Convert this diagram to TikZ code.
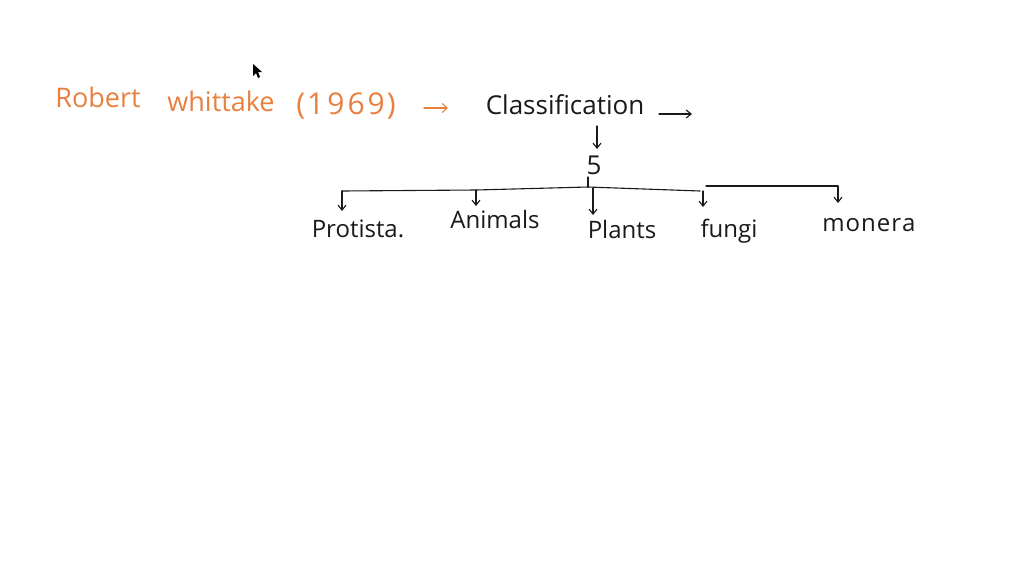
\documentclass[tikz,border=0pt]{standalone}
\usepackage{fontspec}
\setmainfont{Open Sans}
\usetikzlibrary{arrows.meta}
\definecolor{penorange}{HTML}{E8803F}
\definecolor{penblack}{HTML}{1A1A1A}
\begin{document}
\begin{tikzpicture}[x=1pt,y=-1pt,
  hand/.style={inner sep=0pt, anchor=center},
  orangetext/.style={hand, text=penorange, font=\fontsize{27}{30}\selectfont},
  blacktext/.style={hand, text=penblack, font=\fontsize{26}{28}\selectfont},
  leaf/.style={hand, text=penblack, font=\fontsize{24}{26}\selectfont},
  conn/.style={draw=penblack, line width=1.1pt, line cap=round},
  arr/.style={conn, -{Straight Barb[length=5pt,width=8pt]}},
  oarr/.style={draw=penorange, line width=1.1pt, line cap=round, -{Straight Barb[length=5pt,width=9pt]}}]
\useasboundingbox (0,0) rectangle (1024,576);
\fill[white] (0,0) rectangle (1024,576);
% cursor
\fill[black] (253,64) -- (253,76) -- (256,73) -- (258,78) -- (260,77) -- (258,72) -- (262,72) -- cycle;
% title
\node[orangetext] (rob) at (98,97) {Robert};
\node[orangetext] (whi) at (221,101) {whittake};
\node[orangetext, font=\fontsize{30}{32}\selectfont] (yr) at (346,106) {(\hspace{2pt}1\hspace{3pt}9\hspace{3pt}6\hspace{3pt}9\hspace{2pt})};
\coordinate (oa1) at (424,108);
\coordinate (oa2) at (448,108);
\draw[oarr] (oa1) -- (oa2);
\node[blacktext] (cls) at (565,105) {Classification};
\coordinate (ca1) at (659,114);
\coordinate (ca2) at (692,114);
\draw[arr] (ca1) -- (ca2);
\node[blacktext] (five) at (594,165) {5};
\coordinate (d1) at (597,126);
\coordinate (d2) at (597,149);
\draw[arr] (d1) -- (d2);
% tick and bars
\coordinate (top) at (588,177);
\coordinate (j) at (588,187);
\coordinate (pL) at (342,191);
\coordinate (aL) at (476,190);
\coordinate (fL) at (700,191);
\coordinate (mL) at (838,186);
\coordinate (m0) at (706,186);
\draw[conn] (top) -- (j);
\draw[conn] (pL) -- (aL) -- (j) -- (fL);
\draw[conn] (m0) -- (mL);
% labels
\node[leaf] (pro) at (358,229) {Protista.};
\node[leaf] (ani) at (495,219) {Animals};
\node[leaf] (pla) at (622,229) {Plants};
\node[leaf] (fun) at (729,231) {fungi};
\node[leaf] (mon) at (869,225) {m\hspace{1pt}o\hspace{1pt}n\hspace{1pt}e\hspace{1pt}r\hspace{1pt}a};
\coordinate (pE) at (342,211);
\coordinate (aE) at (476,206);
\coordinate (lS) at (593,188);
\coordinate (lE) at (593,215);
\coordinate (fS) at (703,191);
\coordinate (fE) at (703,207);
\coordinate (mE) at (838,203);
\draw[arr] (pL) -- (pE);
\draw[arr] (aL) -- (aE);
\draw[arr] (lS) -- (lE);
\draw[arr] (fS) -- (fE);
\draw[arr] (mL) -- (mE);
\end{tikzpicture}
\end{document}
